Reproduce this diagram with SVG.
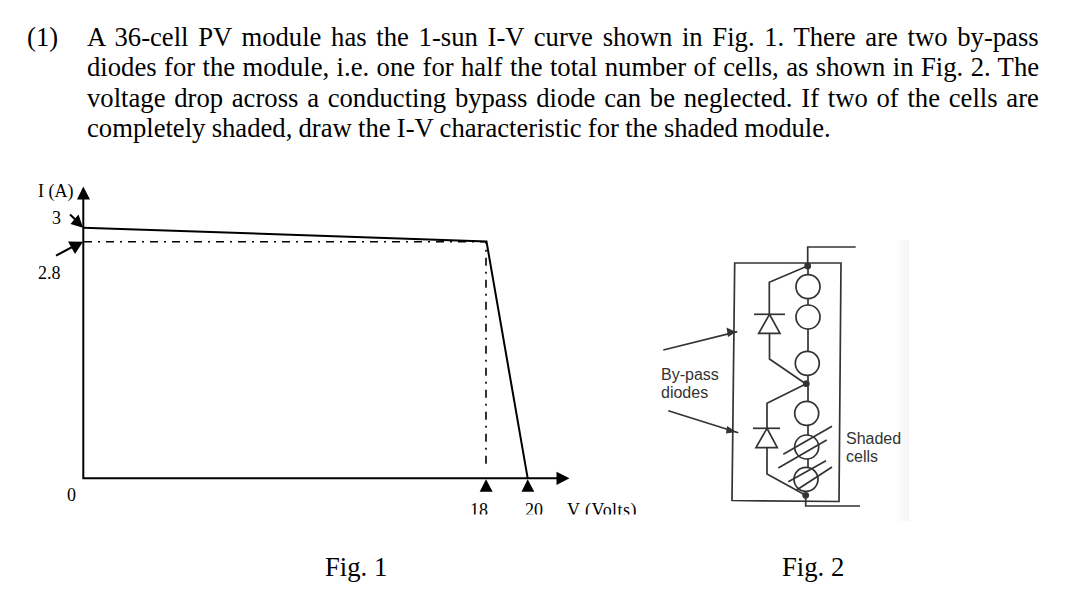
<svg xmlns="http://www.w3.org/2000/svg" width="1071" height="611" viewBox="0 0 1071 611">
<style>
.body{font-family:"Liberation Serif","Times New Roman",serif;font-size:26.67px;fill:#000}
.lab{font-family:"Liberation Serif","Times New Roman",serif;font-size:18px;fill:#000}
.scan{font-family:"Liberation Sans",Arial,sans-serif;font-size:16px;fill:#333}
.ax{fill:none;stroke:#000;stroke-width:2}
.dd{fill:none;stroke:#000;stroke-width:1.6;stroke-dasharray:8 6 2 6}
.w{fill:none;stroke:#333;stroke-width:1.7}
.cell{fill:#fff;stroke:#333;stroke-width:1.7}
.dot{fill:#333}
.head{fill:#000}
</style>
<defs>
<clipPath id="cut"><rect x="440" y="495" width="220" height="19.5"/></clipPath>
<linearGradient id="edge" x1="0" x2="1" y1="0" y2="0"><stop offset="0" stop-color="#fff"/><stop offset="1" stop-color="#f5f5f5"/></linearGradient>
</defs>
<rect width="1071" height="611" fill="#fff"/>
<rect x="895" y="240" width="14" height="281" fill="url(#edge)"/>

<g id="question">
<text class="body" x="27" y="46">(1)</text>
<text class="body" x="87" y="46" word-spacing="3.03">A 36-cell PV module has the 1-sun I-V curve shown in Fig. 1. There are two by-pass</text>
<text class="body" x="87" y="76" word-spacing="0.77">diodes for the module, i.e. one for half the total number of cells, as shown in Fig. 2. The</text>
<text class="body" x="87" y="107" word-spacing="2.07">voltage drop across a conducting bypass diode can be neglected. If two of the cells are</text>
<text class="body" x="87" y="137" word-spacing="-0.45">completely shaded, draw the I-V characteristic for the shaded module.</text>
</g>

<g id="fig1-axes">
<path class="ax" d="M83.3 198V478.3H558"/>
<path class="head" d="M83.3 186.5L77 199.5H90ZM569.5 478.3L556.5 471.7V485Z"/>
</g>
<g id="fig1-curve">
<path class="dd" d="M84 241.7H486V468"/>
<path class="ax" d="M83.3 227.7L486.5 241.5L527.7 478.3"/>
</g>
<g id="fig1-markers">
<path class="ax" d="M70 214.5L78 222M56 255.7L75 245.5"/>
<path class="head" d="M83 227.7L70.5 224L78.5 214.5ZM83 241.7L75 254L68 241.5Z"/>
<path class="head" d="M486 479.3L479.7 491.7H492.7ZM527.7 479.3L521.5 491.7H534.3Z"/>
</g>
<g id="fig1-labels">
<text class="lab" x="38" y="196.5">I (A)</text>
<text class="lab" x="52" y="224">3</text>
<text class="lab" x="38" y="279">2.8</text>
<text class="lab" x="67" y="501">0</text>
<g clip-path="url(#cut)">
<text class="lab" x="470" y="515.5">18</text>
<text class="lab" x="525" y="515.5">20</text>
<text class="lab" x="567" y="515.5" letter-spacing="0.45">V (Volts)</text>
</g>
<text class="body" x="325" y="576" font-size="26">Fig. 1</text>
</g>

<g id="fig2-frame">
<path class="w" d="M734.7 263H841L839 501.5L732 500.5Z"/>
<path class="w" d="M807.7 266V247H855.7M805.7 495V506H860"/>
</g>
<g id="fig2-string">
<path class="w" d="M808 266V484"/>
<g id="cell-1"><circle class="cell" cx="808" cy="286.7" r="12"/></g>
<g id="cell-2"><circle class="cell" cx="808" cy="317" r="12"/></g>
<g id="cell-3"><circle class="cell" cx="807.3" cy="363.3" r="12"/></g>
<g id="cell-4"><circle class="cell" cx="806.7" cy="413.3" r="12"/></g>
<g id="cell-5"><circle class="cell" cx="806.7" cy="447" r="12"/></g>
<g id="cell-6"><circle class="cell" cx="806" cy="479.3" r="12"/></g>
<path class="w" d="M832 426.3L783.3 454.3M826.7 440L778.3 468M826 460.7L788.3 481.7M832 467L796.7 490"/>
</g>
<g id="fig2-diode-1">
<path class="w" d="M807.5 266L769.3 282.3V314.3M769.5 333.3V359L806 384"/>
<path class="cell" d="M769.5 314.3L758.7 333.3H780Z"/>
<path class="w" d="M754 314.3H785"/>
</g>
<g id="fig2-diode-2">
<path class="w" d="M806.3 383.7L767 403.3V428.3M767 447.7V474L805.7 495.3"/>
<path class="cell" d="M767 428.3L756 447.7H777.3Z"/>
<path class="w" d="M753 428.3H780"/>
</g>
<g id="fig2-dots">
<circle class="dot" cx="807.7" cy="266" r="3.4"/>
<circle class="dot" cx="806.3" cy="383.7" r="3.4"/>
<circle class="dot" cx="805.7" cy="495.3" r="3.4"/>
</g>
<g id="fig2-pointers">
<path class="w" d="M663.3 350L737.3 331.7M668.3 410.7L738.3 432.7"/>
<path class="dot" d="M736 332L726.5 327.5L728 337ZM736.5 432L727 426L726 433.5Z"/>
</g>
<g id="fig2-labels">
<text class="scan" x="661" y="379.5">By-pass</text>
<text class="scan" x="661" y="397.5">diodes</text>
<text class="scan" x="846" y="444">Shaded</text>
<text class="scan" x="846" y="462">cells</text>
<text class="body" x="782" y="576" font-size="26">Fig. 2</text>
</g>
</svg>
